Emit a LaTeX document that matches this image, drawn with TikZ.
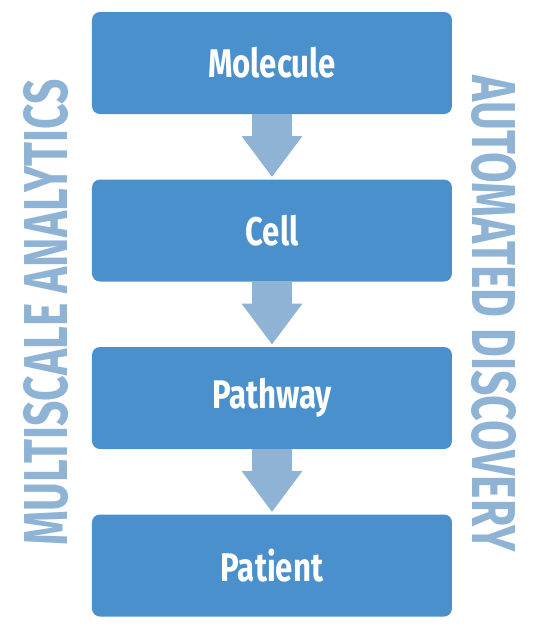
\documentclass[tikz,border=0pt]{standalone}
\usepackage{fontspec}
\usetikzlibrary{arrows.meta}
\newfontfamily\boxfont[FakeStretch=0.78]{Fira Sans}
\newfontfamily\sidefont[FakeStretch=0.715]{Fira Sans}
\definecolor{boxblue}{RGB}{74,144,205}
\definecolor{paleblue}{RGB}{143,179,212}
\tikzstyle{level} = [rectangle, rounded corners=4pt, minimum width=180pt, minimum height=51pt, text centered, fill=boxblue, text=white, font=\boxfont\bfseries\fontsize{20}{24}\selectfont]
\tikzstyle{sidelabel} = [text=paleblue, inner sep=0pt, font=\sidefont\bfseries\fontsize{31}{36}\selectfont]
\tikzstyle{blockarrow} = [draw=paleblue, line width=20pt, -{Triangle[width=29pt,length=20.5pt]}]

\begin{document}
\begin{tikzpicture}[node distance=83.75pt]
        \useasboundingbox (-136pt,31.5pt) rectangle (135pt,-285.5pt);
        \node (molecule) [level] {Molecule};
        \node (cell) [level, below of=molecule] {Cell};
        \node (pathway) [level, below of=cell] {Pathway};
        \node (patient) [level, below of=pathway] {Patient};

        \node (analytics) [sidelabel, rotate=90] at (-112.75pt,-124.75pt) {MULTISCALE ANALYTICS};
        \node (discovery) [sidelabel, rotate=-90] at (111pt,-125.25pt) {AUTOMATED DISCOVERY};

        \draw [blockarrow] (molecule.south) -- ([yshift=1pt]cell.north);
        \draw [blockarrow] (cell.south) -- ([yshift=1pt]pathway.north);
        \draw [blockarrow] (pathway.south) -- ([yshift=1pt]patient.north);
    \end{tikzpicture}
\end{document}
